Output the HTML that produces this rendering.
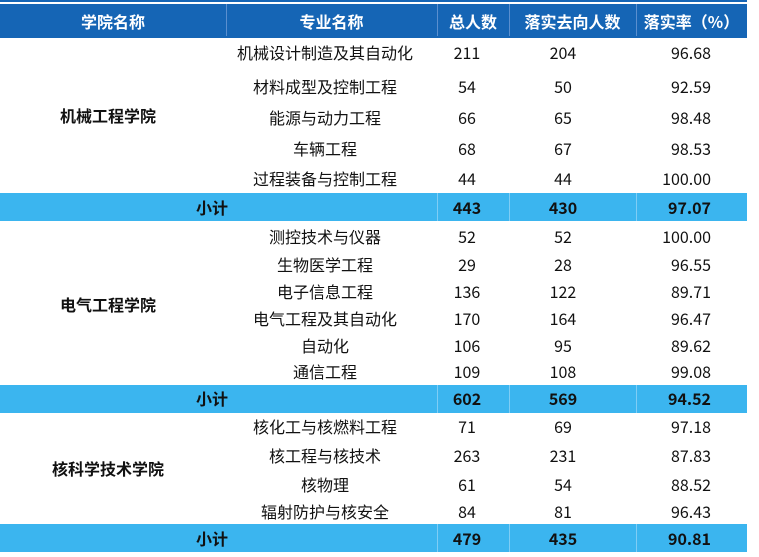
<!DOCTYPE html>
<html><head><meta charset="utf-8"><style>
body{margin:0;width:759px;height:557px;background:#fff;position:relative;overflow:hidden;font-family:"Noto Sans CJK SC","Liberation Sans",sans-serif;font-size:16px;color:#111}
.t,.r{position:absolute;height:24px;line-height:24px;margin-top:-12px;white-space:nowrap}
.t{width:300px;margin-left:-150px;text-align:center}
.r{text-align:right;width:100px}
.b{font-weight:bold}
.hd{position:absolute;left:0;top:3px;width:747px;height:34px;background:#1565b5;border-top:1px solid #fff}
.hd span{position:absolute;top:0;height:34px;line-height:34px;color:#fff;font-weight:bold;text-align:center}
.vl{position:absolute;top:4px;height:32px;width:1px;background:#5a8fcf}
.sub{position:absolute;left:0;width:747px;height:28px;background:#3bb5ef}
.sub .d{position:absolute;top:0;width:1px;height:28px;background:#7fcdf5}
</style></head><body>
<div style="position:absolute;left:0;top:0;width:747px;height:2px;background:#1565b5"></div>
<div class="hd">
<span style="left:0;width:226px">学院名称</span>
<span style="left:226px;width:211px">专业名称</span>
<span style="left:437px;width:72px">总人数</span>
<span style="left:509px;width:127px">落实去向人数</span>
<span style="left:636px;width:111px">落实率（%）</span>
</div>
<div class="vl" style="left:226px"></div><div class="vl" style="left:437px"></div><div class="vl" style="left:509px"></div><div class="vl" style="left:636px"></div>

<div class="sub" style="top:193px"><div class="d" style="left:437px"></div><div class="d" style="left:509px"></div><div class="d" style="left:636px"></div></div>
<div class="sub" style="top:385px"><div class="d" style="left:437px"></div><div class="d" style="left:509px"></div><div class="d" style="left:636px"></div></div>
<div class="sub" style="top:524px"><div class="d" style="left:437px"></div><div class="d" style="left:509px"></div><div class="d" style="left:636px"></div></div>

<div class="t b" style="left:108px;top:115px">机械工程学院</div>
<div class="t b" style="left:108px;top:304px">电气工程学院</div>
<div class="t b" style="left:108px;top:468px">核科学技术学院</div>

<div id="rows"></div>
<script>
var rows=[
[52,"机械设计制造及其自动化","211","204","96.68"],
[86,"材料成型及控制工程","54","50","92.59"],
[117,"能源与动力工程","66","65","98.48"],
[148,"车辆工程","68","67","98.53"],
[178,"过程装备与控制工程","44","44","100.00"],
[207,"小计","443","430","97.07",1],
[236,"测控技术与仪器","52","52","100.00"],
[264,"生物医学工程","29","28","96.55"],
[291,"电子信息工程","136","122","89.71"],
[318,"电气工程及其自动化","170","164","96.47"],
[345,"自动化","106","95","89.62"],
[371,"通信工程","109","108","99.08"],
[398,"小计","602","569","94.52",1],
[426,"核化工与核燃料工程","71","69","97.18"],
[455,"核工程与核技术","263","231","87.83"],
[484,"核物理","61","54","88.52"],
[511,"辐射防护与核安全","84","81","96.43"],
[538,"小计","479","435","90.81",1]];
var h="";
rows.forEach(function(r){
var b=r[5]?" b":"";
var x=r[5]?212:325;
h+='<div class="t'+b+'" style="left:'+x+'px;top:'+r[0]+'px">'+r[1]+'</div>';
h+='<div class="t'+b+'" style="left:467px;top:'+r[0]+'px">'+r[2]+'</div>';
h+='<div class="t'+b+'" style="left:563px;top:'+r[0]+'px">'+r[3]+'</div>';
h+='<div class="r'+b+'" style="left:611px;top:'+r[0]+'px">'+r[4]+'</div>';
});
document.getElementById("rows").innerHTML=h;
</script>
</body></html>
